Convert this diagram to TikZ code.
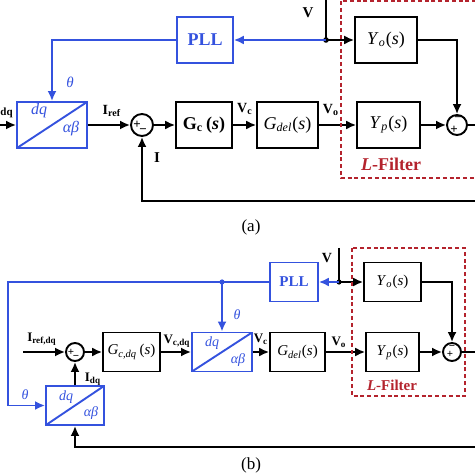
\documentclass[tikz,border=0pt]{standalone}
\usepackage{fontspec}
\setmainfont{Liberation Serif}
\usetikzlibrary{arrows.meta,calc}

\newcommand{\bsub}[2]{\textbf{#1}\textsubscript{\textbf{#2}}}
\newcommand{\isub}[2]{\textit{#1}\textsubscript{\textit{#2}}}
\newcommand{\fsz}[1]{\fontsize{#1}{#1}\selectfont}

\tikzset{
  line/.style={line width=0.95pt},
  arr/.style={line, -{Latex[length=5pt,width=4.5pt]}},
  blk/.style={draw, line width=0.85pt, inner sep=0pt},
  pllbox/.style={blk, draw=plblue, text=plblue},
  convbox/.style={draw=plblue, line width=0.95pt, inner sep=0pt,
    path picture={\draw[plblue, line width=0.95pt] (path picture bounding box.south west) -- (path picture bounding box.north east);}},
  sumnode/.style={draw, circle, line width=0.95pt, inner sep=0pt, minimum size=#1},
  lbl/.style={inner sep=0pt, font=\fsz{7}},
  convtxt/.style={inner sep=0pt, text=plblue},
  sgn/.style={inner sep=0pt, font=\fsz{6.5}\bfseries},
  filt/.style={draw=filtred, dash pattern=on 2pt off 1.4pt, line width=0.7pt},
}

\begin{document}
\begin{tikzpicture}[x=0.5pt, y=-0.5pt]
  \definecolor{plblue}{RGB}{52,82,222}
  \definecolor{filtred}{RGB}{180,35,45}
  \useasboundingbox (0,0) rectangle (474,474);

  % (a) control in the stationary frame
  \node[pllbox, font=\fsz{9}\bfseries, minimum width=28pt, minimum height=23pt] (plla) at (205,40) {PLL};
  \node[convbox, minimum width=35pt, minimum height=23pt] (dqa) at (52,125) {};
  \node[convtxt, font=\fsz{8}\itshape] (dqatop) at ($(dqa.center)+(-13,-14)$) {dq};
  \node[convtxt, font=\fsz{8}\itshape] (dqabot) at ($(dqa.center)+(19,4)$) {αβ};
  \node[sumnode=11pt] (suma) at (142,125) {};
  \node[blk, font=\fsz{9}, minimum width=28pt, minimum height=23pt] (gca) at (204,125) {\textbf{G\textsubscript{c}\,(\textit{s})}};
  \node[blk, font=\fsz{9}, minimum width=30.5pt, minimum height=23pt] (gdela) at (287.5,125) {\isub{G}{del}(\textit{s})};
  \node[blk, font=\fsz{9}, minimum width=31.5pt, minimum height=23pt] (ypa) at (388.5,125) {\isub{Y}{p}(\textit{s})};
  \node[blk, font=\fsz{9}, minimum width=31pt, minimum height=23pt] (yoa) at (386,40) {\isub{Y}{o}(\textit{s})};
  \node[sumnode=10pt] (sumb) at (457,125) {};
  \coordinate (va) at (326,40);
  \coordinate (vtopa) at (326,-5);
  \coordinate (ina) at (-5,125);
  \coordinate (outa) at (480,125);
  \coordinate (fba) at (480,201);

  \node[sgn] (sumapl) at ($(suma)+(-5,0)$) {+};
  \node[sgn] (sumami) at ($(suma)+(1,6)$) {−};
  \node[sgn] (sumbmi) at ($(sumb)+(1,-6)$) {−};
  \node[sgn] (sumbpl) at ($(sumb)+(-3,5)$) {+};

  \draw[arr] (ina) -- (dqa);
  \draw[arr] (dqa) -- (suma);
  \draw[arr] (suma) -- (gca);
  \draw[arr] (gca) -- (gdela);
  \draw[arr] (gdela) -- (ypa);
  \draw[arr] (ypa) -- (sumb);
  \draw[line] (sumb) -- (outa);
  \draw[line] (vtopa) -- (va);
  \fill (va) circle (1.4pt);
  \draw[arr, plblue] (va) -- (plla);
  \draw[arr] (va) -- (yoa);
  \draw[arr] (yoa) -| (sumb);
  \draw[arr, plblue] (plla) -| (dqa);
  \draw[arr] (fba) -| (suma);

  \draw[filt] (341,1) rectangle (490,178);
  \node[inner sep=0pt, font=\fsz{9}\bfseries, text=filtred] (filta) at (391,164) {\textit{L}-Filter};

  \node[lbl, font=\fsz{5.5}\bfseries, anchor=west] (lirefdqa) at (0,113) {dq};
  \node[lbl] (lirefa) at (112,111) {\bsub{I}{ref}};
  \node[lbl, text=plblue, font=\fsz{7.5}\itshape] (ltha) at (70,82) {θ};
  \node[lbl, font=\fsz{7.5}\bfseries] (lia) at (157,158) {I};
  \node[lbl] (lvca) at (245,109) {\bsub{V}{c}};
  \node[lbl] (lvoa) at (331,110) {\bsub{V}{o}};
  \node[lbl, font=\fsz{7.5}\bfseries] (lva) at (308,13) {V};
  \node[inner sep=0pt, font=\fsz{8.5}] (capa) at (251,227) {(a)};

  % (b) control in the dq frame
  \node[pllbox, font=\fsz{7.5}\bfseries, minimum width=24pt, minimum height=19.5pt] (pllb) at (294,282) {PLL};
  \node[blk, font=\fsz{7.5}, minimum width=28.5pt, minimum height=19.5pt] (yob) at (392.5,282) {\isub{Y}{o}(\textit{s})};
  \node[sumnode=9pt] (sumc) at (75,352) {};
  \node[blk, font=\fsz{7.5}, minimum width=28.5pt, minimum height=19.5pt] (gcdqb) at (131.5,352) {\isub{G}{c,dq}\,(\textit{s})};
  \node[convbox, minimum width=30pt, minimum height=19.5pt] (dqc) at (222,352) {};
  \node[convtxt, font=\fsz{7}\itshape] (dqctop) at ($(dqc.center)+(-10,-9)$) {dq};
  \node[convtxt, font=\fsz{7}\itshape] (dqcbot) at ($(dqc.center)+(16,8)$) {αβ};
  \node[blk, font=\fsz{7.5}, minimum width=27.5pt, minimum height=19.5pt] (gdelb) at (297.5,352) {\isub{G}{del}(\textit{s})};
  \node[blk, font=\fsz{7.5}, minimum width=26.5pt, minimum height=19.5pt] (ypb) at (392.5,352) {\isub{Y}{p}(\textit{s})};
  \node[sumnode=9pt] (sumd) at (452,352) {};
  \node[convbox, minimum width=29pt, minimum height=19.5pt] (dqd) at (75,405.5) {};
  \node[convtxt, font=\fsz{7}\itshape] (dqdtop) at ($(dqd.center)+(-9,-8)$) {dq};
  \node[convtxt, font=\fsz{7}\itshape] (dqdbot) at ($(dqd.center)+(16,8)$) {αβ};
  \coordinate (vb) at (339,282);
  \coordinate (vtopb) at (339,248);
  \coordinate (thb) at (222,282);
  \coordinate (loopb) at (8,282);
  \coordinate (inb) at (23,352);
  \coordinate (outb) at (480,352);
  \coordinate (fbb) at (480,447);

  \node[sgn, font=\fsz{5.5}\bfseries] (sumcpl) at ($(sumc)+(-4,0)$) {+};
  \node[sgn, font=\fsz{5.5}\bfseries] (sumcmi) at ($(sumc)+(1,5)$) {−};
  \node[sgn, font=\fsz{5.5}\bfseries] (sumdmi) at ($(sumd)+(0,-5)$) {−};
  \node[sgn, font=\fsz{5.5}\bfseries] (sumdpl) at ($(sumd)+(-2,2)$) {+};

  \draw[arr] (inb) -- (sumc);
  \draw[arr] (sumc) -- (gcdqb);
  \draw[arr] (gcdqb) -- (dqc);
  \draw[arr] (dqc) -- (gdelb);
  \draw[arr] (gdelb) -- (ypb);
  \draw[arr] (ypb) -- (sumd);
  \draw[line] (sumd) -- (outb);
  \draw[arr] (dqd) -- (sumc);
  \draw[arr] (fbb) -| (dqd);
  \draw[line] (vtopb) -- (vb);
  \fill (vb) circle (1.3pt);
  \draw[arr, plblue] (vb) -- (pllb);
  \draw[arr] (vb) -- (yob);
  \draw[arr] (yob) -| (sumd);
  \draw[arr, plblue] (pllb) -- (loopb) |- (dqd);
  \fill[plblue] (thb) circle (1.3pt);
  \draw[arr, plblue] (thb) -- (dqc);

  \draw[filt] (352,248) rectangle (465,396);
  \node[inner sep=0pt, font=\fsz{7.5}\bfseries, text=filtred] (filtb) at (392,385) {\textit{L}-Filter};

  \node[lbl, font=\fsz{6.5}] (lirefdqb) at (42,339) {\bsub{I}{ref,dq}};
  \node[lbl, font=\fsz{6.5}] (lidqb) at (93,379) {\bsub{I}{dq}};
  \node[lbl, font=\fsz{6.5}] (lvcdqb) at (177,341) {\bsub{V}{c,dq}};
  \node[lbl, font=\fsz{6.5}] (lvcb) at (261,339) {\bsub{V}{c}};
  \node[lbl, font=\fsz{6.5}] (lvob) at (339,342) {\bsub{V}{o}};
  \node[lbl, font=\fsz{7}\bfseries] (lvb) at (327,258) {V};
  \node[lbl, text=plblue, font=\fsz{7}\itshape] (lthb) at (25,395) {θ};
  \node[lbl, text=plblue, font=\fsz{7}\itshape] (lthc) at (237,315) {θ};
  \node[inner sep=0pt, font=\fsz{8.5}] (capb) at (251,465) {(b)};
\end{tikzpicture}
\end{document}
